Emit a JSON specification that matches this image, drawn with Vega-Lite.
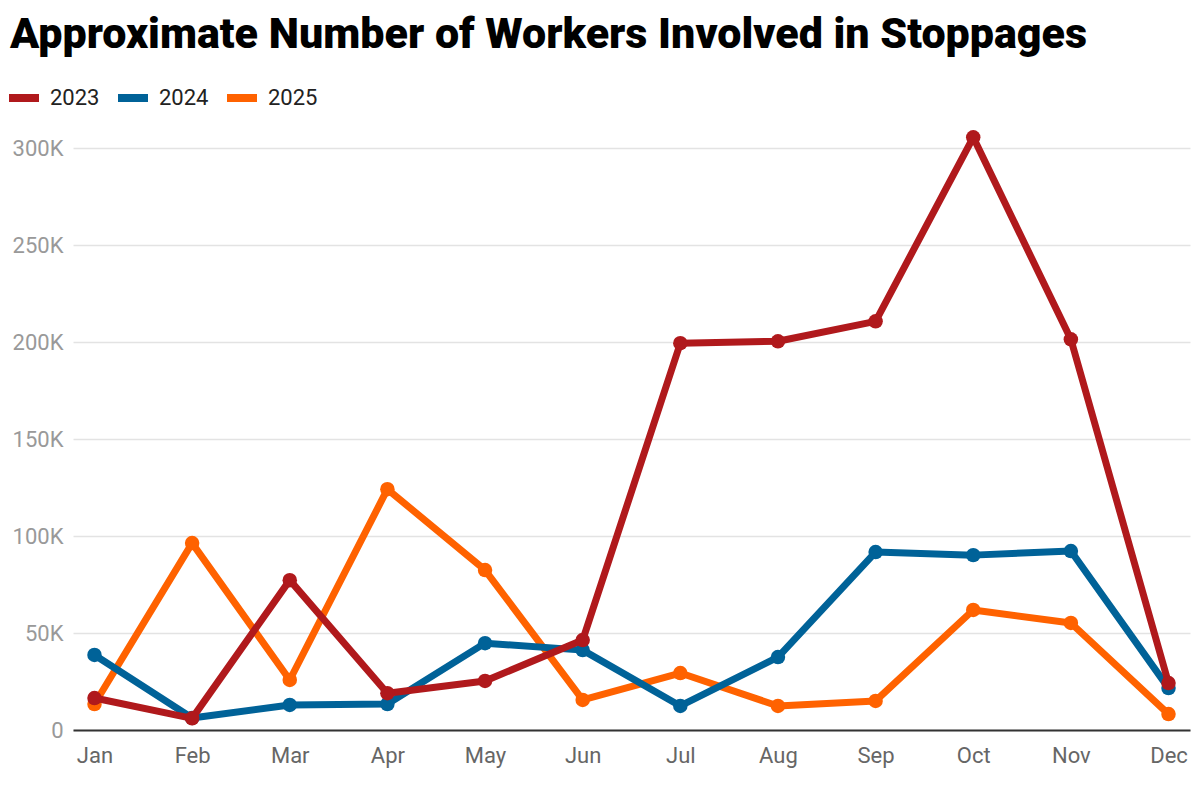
{
  "$schema": "https://vega.github.io/schema/vega-lite/v6.json",
  "autosize": "none",
  "width": 1117,
  "height": 601,
  "padding": {"left": 73, "top": 129, "right": 10, "bottom": 65},
  "background": "#ffffff",
  "title": {
    "text": "Approximate Number of Workers Involved in Stoppages",
    "anchor": "start",
    "frame": "group",
    "font": "Roboto",
    "fontSize": 43,
    "fontWeight": 900,
    "color": "#000000",
    "baseline": "alphabetic",
    "offset": 40,
    "dy": 52,
    "dx": -63
  },
  "config": {
    "view": {"stroke": null},
    "font": "Roboto"
  },
  "data": {
    "values": [
      {"month": "Jan", "year": "2023", "workers": 16500},
      {"month": "Feb", "year": "2023", "workers": 6000},
      {"month": "Mar", "year": "2023", "workers": 77300},
      {"month": "Apr", "year": "2023", "workers": 19000},
      {"month": "May", "year": "2023", "workers": 25300},
      {"month": "Jun", "year": "2023", "workers": 46400},
      {"month": "Jul", "year": "2023", "workers": 199500},
      {"month": "Aug", "year": "2023", "workers": 200500},
      {"month": "Sep", "year": "2023", "workers": 210800},
      {"month": "Oct", "year": "2023", "workers": 305700},
      {"month": "Nov", "year": "2023", "workers": 201500},
      {"month": "Dec", "year": "2023", "workers": 24200},
      {"month": "Jan", "year": "2024", "workers": 38700},
      {"month": "Feb", "year": "2024", "workers": 6200},
      {"month": "Mar", "year": "2024", "workers": 12900},
      {"month": "Apr", "year": "2024", "workers": 13400},
      {"month": "May", "year": "2024", "workers": 44800},
      {"month": "Jun", "year": "2024", "workers": 41200},
      {"month": "Jul", "year": "2024", "workers": 12400},
      {"month": "Aug", "year": "2024", "workers": 37600},
      {"month": "Sep", "year": "2024", "workers": 91800},
      {"month": "Oct", "year": "2024", "workers": 90200},
      {"month": "Nov", "year": "2024", "workers": 92300},
      {"month": "Dec", "year": "2024", "workers": 21600},
      {"month": "Jan", "year": "2025", "workers": 13400},
      {"month": "Feb", "year": "2025", "workers": 96400},
      {"month": "Mar", "year": "2025", "workers": 25800},
      {"month": "Apr", "year": "2025", "workers": 124200},
      {"month": "May", "year": "2025", "workers": 82500},
      {"month": "Jun", "year": "2025", "workers": 15500},
      {"month": "Jul", "year": "2025", "workers": 29400},
      {"month": "Aug", "year": "2025", "workers": 12400},
      {"month": "Sep", "year": "2025", "workers": 15000},
      {"month": "Oct", "year": "2025", "workers": 61900},
      {"month": "Nov", "year": "2025", "workers": 55200},
      {"month": "Dec", "year": "2025", "workers": 8200}
    ]
  },
  "encoding": {
    "x": {
      "field": "month",
      "type": "ordinal",
      "sort": ["Jan", "Feb", "Mar", "Apr", "May", "Jun", "Jul", "Aug", "Sep", "Oct", "Nov", "Dec"],
      "scale": {"type": "point", "padding": 0.22},
      "axis": {
        "title": null,
        "labelAngle": 0,
        "labelFontSize": 22,
        "labelColor": "#666666",
        "labelPadding": 15,
        "ticks": false,
        "domain": true,
        "domainColor": "#333333",
        "domainWidth": 2,
        "grid": false
      }
    },
    "y": {
      "field": "workers",
      "type": "quantitative",
      "scale": {"domain": [0, 310000], "nice": false},
      "axis": {
        "title": null,
        "values": [0, 50000, 100000, 150000, 200000, 250000, 300000],
        "labelExpr": "datum.value == 0 ? '0' : (datum.value / 1000) + 'K'",
        "labelFontSize": 22,
        "labelColor": "#999999",
        "labelPadding": 10,
        "ticks": false,
        "domain": false,
        "grid": true,
        "gridColor": "#e3e3e3",
        "gridWidth": 1.5
      }
    },
    "color": {
      "field": "year",
      "type": "nominal",
      "scale": {
        "domain": ["2023", "2024", "2025"],
        "range": ["#b0191c", "#006298", "#ff6200"]
      },
      "legend": {
        "title": null,
        "orient": "none",
        "direction": "horizontal",
        "legendX": -68,
        "legendY": -50,
        "symbolType": "stroke",
        "symbolStrokeWidth": 8,
        "symbolSize": 900,
        "labelFontSize": 22,
        "labelColor": "#222222",
        "labelOffset": 7,
        "columnPadding": 2,
        "symbolOpacity": 1
      }
    }
  },
  "layer": [
    {
      "transform": [{"filter": "datum.year == '2025'"}],
      "layer": [
        {"mark": {"type": "line", "strokeWidth": 7, "strokeCap": "round", "strokeJoin": "round"}},
        {"mark": {"type": "circle", "size": 210, "opacity": 1}}
      ]
    },
    {
      "transform": [{"filter": "datum.year == '2024'"}],
      "layer": [
        {"mark": {"type": "line", "strokeWidth": 7, "strokeCap": "round", "strokeJoin": "round"}},
        {"mark": {"type": "circle", "size": 210, "opacity": 1}}
      ]
    },
    {
      "transform": [{"filter": "datum.year == '2023'"}],
      "layer": [
        {"mark": {"type": "line", "strokeWidth": 7, "strokeCap": "round", "strokeJoin": "round"}},
        {"mark": {"type": "circle", "size": 210, "opacity": 1}}
      ]
    }
  ]
}
